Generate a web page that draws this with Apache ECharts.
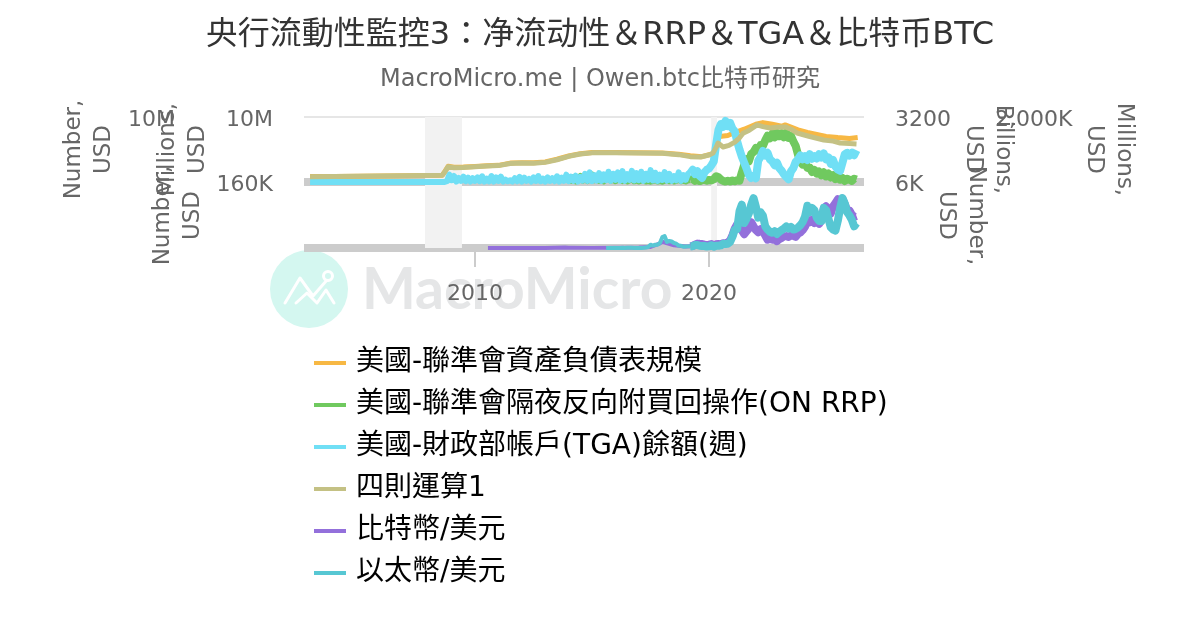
<!DOCTYPE html>
<html>
<head>
<meta charset="utf-8">
<style>html,body{margin:0;padding:0;background:#fff}#c{width:1200px;height:630px}</style>
<script src="https://cdn.jsdelivr.net/npm/echarts@6/dist/echarts.min.js"></script>
</head>
<body>
<div id="c"></div>
<script>
const titleText = "央行流動性監控3：净流动性＆RRP＆TGA＆比特币BTC";
const subtitleText = "MacroMicro.me | Owen.btc比特币研究";
const seriesNames = ["美國-聯準會資產負債表規模","美國-聯準會隔夜反向附買回操作(ON RRP)","美國-財政部帳戶(TGA)餘額(週)","四則運算1","比特幣/美元","以太幣/美元"];
const seriesColors = ["#f7b844","#70c95f","#70dff5","#c4c184","#9370db","#57c7d3"];
const xTickYears = [2010, 2020];
const recessions = [[2007.86, 2009.44], [2020.09, 2020.34]];

// Fed balance sheet (USD millions)
const fedYears = [2002.95,2004,2005,2006,2007,2008,2008.6,2008.72,2008.85,2009.1,2009.5,2010,2010.5,2011,2011.5,2012,2012.5,2013,2013.5,2014,2014.5,2015,2016,2017,2018,2018.7,2019.2,2019.7,2020.0,2020.2,2020.3,2020.45,2020.8,2021,2021.5,2022,2022.3,2022.7,2023.1,2023.25,2023.8,2024.2,2024.6,2025,2025.5,2026,2026.35];
const fedValues = [980000,1000000,1040000,1070000,1110000,1160000,1200000,1800000,2550000,2400000,2420000,2520000,2620000,2680000,3020000,3080000,3060000,3200000,3600000,4100000,4450000,4620000,4620000,4600000,4550000,4350000,4120000,4000000,4300000,4450000,6400000,7050000,7200000,7500000,8150000,8900000,9150000,8900000,8600000,8800000,8050000,7650000,7350000,7050000,6880000,6750000,6900000];

// Net liquidity calculation
const netYears = [2002.95,2004,2005,2006,2007,2008,2008.6,2008.72,2008.85,2009.1,2009.5,2010,2010.5,2011,2011.5,2012,2012.5,2013,2013.5,2014,2014.5,2015,2016,2017,2018,2018.7,2019.19,2019.62,2020.0,2020.17,2020.3,2020.38,2020.6,2020.85,2021.1,2021.3,2021.45,2021.7,2022.05,2022.3,2022.6,2022.9,2023.25,2023.5,2023.76,2024.3,2024.9,2025.3,2025.6,2026,2026.3];
const netValues = [950000,980000,1020000,1050000,1090000,1130000,1170000,1750000,2480000,2330000,2370000,2470000,2580000,2640000,2960000,3030000,3000000,3130000,3530000,4050000,4400000,4570000,4570000,4560000,4500000,4300000,4000000,3950000,4250000,4550000,5400000,6050000,5460000,5700000,6200000,6850000,7550000,7950000,8800000,8550000,8330000,8450000,8500000,8150000,7580000,7050000,6520000,6350000,6060000,5980000,5920000];

// RRP (USD billions): start of series, then two stepped runs (0.1 year)
const rrpStartEarly = 2013.9;
const rrpEarly = [30,180,60,240,40,120,300,70,210,50,160,380,90,180,60,250,40,150,340,70,130,40,110,220,50,100,30,90,190,40,80,30,70,210,30,60,20,50,170,30,60,20,70,240,40,80,30,60,180,40,70,30,90];
const rrpStartLate = 2019.2;
const rrpLate = [90,150,60,110,50,90,130,70,110,80,140,290,240,130,60,30,70,30,80,40,90,70,480,840,1130,1020,1380,1480,1680,1560,1820,1780,2050,2280,2150,2380,2200,2420,2260,2400,2200,2430,2170,2280,2000,1780,1350,1000,860,1020,700,720,500,600,420,520,330,480,280,420,230,340,150,260,120,200,60,160,120,60,170,130];

// TGA (USD millions): flat beginning, then stepped (0.1 year)
const tgaFlatYears = [2002.95,2005,2008.7];
const tgaFlatValues = [8000,6000,8000];
const tgaStartEarly = 2008.8;
const tgaEarly = [30000,230000,60000,190000,20000,130000,40000,170000,30000,140000,20000,120000,40000,150000,30000,180000,20000,110000,30000,190000,20000,150000,40000,170000,20000,80000,30000,60000,20000,120000,30000,160000,20000,140000,40000,100000,20000,150000,40000,190000,30000,110000,20000,150000,40000,120000,30000,180000,20000,140000,40000,230000,30000,170000,40000,200000,20000,160000,50000,260000,40000,300000,30000,220000,50000,280000,40000,240000,60000,320000,40000,260000,70000,300000,50000,340000,40000,250000,70000,350000,50000,280000,60000,320000,40000,260000,70000,370000,50000,290000,40000,230000,70000,310000,50000,260000,40000,190000,60000,300000,40000,220000,70000,260000];
const tgaStartLate = 2019.2;
const tgaLate = [280000,380000,250000,340000,190000,130000,300000,380000,420000,520000,640000,1150000,1600000,1780000,1700000,1880000,1720000,1820000,1640000,1560000,1250000,1000000,780000,600000,420000,220000,130000,190000,120000,660000,780000,960000,820000,900000,700000,640000,520000,600000,430000,350000,240000,160000,90000,330000,430000,620000,700000,820000,700000,800000,680000,860000,720000,800000,730000,860000,760000,880000,700000,760000,560000,680000,480000,390000,350000,600000,860000,900000,820000,900000,830000,980000];

// BTC / USD
const btcEarlyYears = [2010.55,2013,2013.85,2014,2015,2016,2017,2017.5,2017.9,2018,2018.5,2019];
const btcEarlyValues = [0,13,1000,800,300,430,1000,2500,11000,15000,6500,3700];
const btcStart = 2019.2;
const btcLate = [4000,5200,8000,10500,10000,9700,8000,7400,8000,9500,5500,8800,9500,9300,11500,10700,13500,18500,31000,47000,57000,60000,42000,33000,40000,47000,62000,52000,43000,38000,45000,39000,30000,20000,23000,20000,20500,16500,21000,24000,28000,28500,26500,30000,29000,26500,34000,37000,43000,51000,68000,62000,68000,60000,63000,58000,66000,95000,100000,85000,83000,100000,108000,117000,112000,118000,105000,90000,90000,80000,75000,77000];

// ETH / USD, stepped 0.1 year
const ethStart = 2015.6;
const ethEarly = [1,1,1,1,1,3,8,12,10,12,12,12,10,8,10,11,15,50,90,300,220,300,300,470,1000,1100,560,650,600,460,400,220,200,120,140,150];
const ethLateStart = 2019.2;
const ethLate = [170,170,270,280,210,190,180,140,160,260,120,210,200,240,390,380,390,570,1050,1700,1750,3400,4000,2300,2700,3200,4000,4600,3800,2800,3300,3000,2000,1700,1500,1400,1550,1300,1500,1650,1800,2000,1800,1950,1700,1750,1900,2100,2400,2900,3900,3300,3700,3500,2800,2500,2500,3700,3500,2700,1900,1700,1600,2500,3700,4600,4100,3300,3000,2600,2000,2300];

const pairs = (ys, vs) => ys.map((y, i) => [y, vs[i]]);
const stepped = (start, vs) => vs.map((v, i) => [Math.round((start + i * 0.1) * 100) / 100, v]);

const FONT = '"DejaVu Sans","Noto Sans CJK TC",sans-serif';
const labelBase = {color:"#666", fontSize:22, fontFamily:FONT};
const nameBase = {color:"#666", fontSize:23, fontFamily:FONT, lineHeight:30};
const compact = v => v >= 1e7 ? (v/1e6)+"M" : (v/1e3).toLocaleString("en-US")+"K";

function yAxis(opts){
  return Object.assign({
    type:"value", axisLine:{show:false}, axisTick:{show:false,customValues:opts.ticks},
    axisLabel:Object.assign({show:!!opts.labels, margin:31, verticalAlign:"top", lineHeight:6, customValues:opts.labels||[], formatter:opts.fmt||compact, showMinLabel:true, showMaxLabel:true, hideOverlap:false}, labelBase),
    splitLine:{show:!!opts.split, lineStyle:{color:"#e6e6e6", width:2}},
    nameLocation:"middle", nameTextStyle:nameBase
  }, opts.base);
}

const yAxes = [
  yAxis({ticks:[160000,10000000], labels:[160000,10000000], split:true, base:{gridIndex:0, position:"left", min:160000, max:10000000, name:"Millions,\nUSD", nameRotate:90, nameGap:85}}),
  yAxis({ticks:[10000000], labels:[10000000], base:{gridIndex:0, position:"left", offset:98, min:160000, max:10000000, name:"Number,\nUSD", nameRotate:90, nameGap:87}}),
  yAxis({ticks:[6,3200], labels:[6,3200], fmt:v => v === 6 ? "6K" : String(v), base:{gridIndex:0, position:"right", min:6, max:3200, name:"Billions,\nUSD", nameRotate:-90, nameGap:94}}),
  yAxis({ticks:[2000000], labels:[2000000], base:{gridIndex:0, position:"right", offset:100, min:6000, max:2000000, name:"Millions,\nUSD", nameRotate:-90, nameGap:115}}),
  yAxis({ticks:[156000], base:{gridIndex:1, position:"left", min:0, max:156000, name:"Number,\nUSD", nameRotate:90, nameGap:96}}),
  yAxis({ticks:[6000], base:{gridIndex:1, position:"right", min:0, max:6000, name:"Number,\nUSD", nameRotate:-90, nameGap:67}})
];

function xAxis(grid, showLabels){
  return {
    type:"value", gridIndex:grid, min:2002.69, max:2026.62,
    axisLine:{show:true, onZero:false, lineStyle:{color:"#cccccc", width:8, cap:"butt"}},
    axisTick:{show:showLabels, length:19, customValues:xTickYears, lineStyle:{color:"#cccccc", width:2}},
    axisLabel:Object.assign({show:showLabels, margin:35, customValues:xTickYears, formatter:v => String(v)}, labelBase),
    splitLine:{show:false}
  };
}

function line(i, xi, yi, data, width){
  return {name:seriesNames[i], type:"line", xAxisIndex:xi, yAxisIndex:yi, data:data, showSymbol:false, symbol:"none",
    lineStyle:{width:width, color:seriesColors[i], join:"round"}, itemStyle:{color:seriesColors[i]}, animation:false, z:3};
}
function band(xi, yi){
  return {type:"line", xAxisIndex:xi, yAxisIndex:yi, data:[[recessions[0][0], yi===0?160000:0]], showSymbol:false, symbol:"none", lineStyle:{width:0}, silent:true, animation:false, z:-1,
    markArea:{silent:true, itemStyle:{color:"#f2f2f2"}, data:recessions.map(r => [{xAxis:r[0]},{xAxis:r[1]}])}};
}

const rrpA = stepped(rrpStartEarly,rrpEarly), rrpB = stepped(rrpStartLate,rrpLate);
const tgaA = pairs(tgaFlatYears,tgaFlatValues).concat(stepped(tgaStartEarly,tgaEarly)), tgaB = stepped(tgaStartLate,tgaLate);
const btcA = pairs(btcEarlyYears,btcEarlyValues), btcB = stepped(btcStart,btcLate);
const ethA = stepped(ethStart,ethEarly), ethB = stepped(ethLateStart,ethLate);

const option = {
  animation:false,
  backgroundColor:"#fff",
  title:{text:titleText, subtext:subtitleText, left:"center", top:15, itemGap:16,
    textStyle:{color:"#333", fontSize:32, fontWeight:"normal", fontFamily:FONT},
    subtextStyle:{color:"#666", fontSize:24, fontFamily:FONT}},
  graphic:[
    {type:"circle", z:-10, silent:true, shape:{cx:309, cy:289, r:39}, style:{fill:"#d4f7f0"}},
    {type:"polyline", z:-9, silent:true, shape:{points:[[285,303],[300,278],[313,296],[327,280]]}, style:{stroke:"#fff", lineWidth:3, fill:null, lineCap:"round", lineJoin:"round"}},
    {type:"polyline", z:-9, silent:true, shape:{points:[[296,303],[307,293],[317,303],[326,290],[334,303]]}, style:{stroke:"#fff", lineWidth:3, fill:null, lineCap:"round", lineJoin:"round"}},
    {type:"circle", z:-9, silent:true, shape:{cx:328, cy:276, r:4.5}, style:{stroke:"#fff", lineWidth:3, fill:"#d4f7f0"}},
    {type:"text", z:-10, silent:true, left:362, top:262, style:{text:"MacroMicro", fill:"#e5e6e7", font:'700 57px Lato, "Open Sans", sans-serif'}}
  ],
  legend:{orient:"vertical", left:309, top:343, icon:"rect", itemWidth:32, itemHeight:4, itemGap:12,
    data:seriesNames,
    textStyle:{color:"#000", fontSize:28, lineHeight:30, padding:[0,0,0,5], fontFamily:FONT}},
  grid:[
    {left:304, width:560, top:117, height:65},
    {left:304, width:560, top:183, height:65}
  ],
  xAxis:[xAxis(0,false), xAxis(1,true)],
  yAxis:yAxes,
  series:[
    band(0,0), band(1,4),
    line(0,0,0,pairs(fedYears,fedValues),5),
    line(1,0,2,rrpA.concat(rrpB.slice(0,1)),6),
    line(1,0,2,rrpB,8),
    line(2,0,3,tgaA.concat(tgaB.slice(0,1)),6),
    line(2,0,3,tgaB,8),
    line(3,0,1,pairs(netYears,netValues),5),
    line(4,1,4,btcA.concat(btcB.slice(0,1)),4),
    line(4,1,4,btcB,8),
    line(5,1,5,ethA.concat(ethB.slice(0,1)),4),
    line(5,1,5,ethB,8)
  ]
};
echarts.init(document.getElementById("c"), null, {renderer:"canvas"}).setOption(option);
</script>
</body>
</html>
